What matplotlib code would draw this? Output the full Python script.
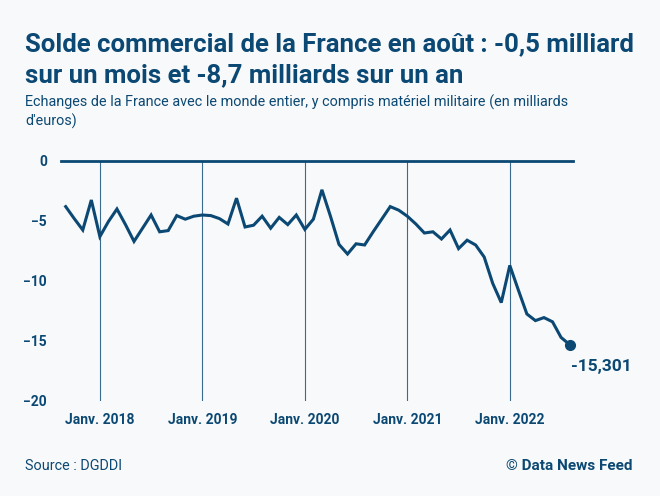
import matplotlib.pyplot as plt
import numpy as np

# Solde commercial mensuel (milliards d'euros), sept. 2017 -> août 2022
months_start = "2017-09"
solde = [
    -3.8, -4.8, -5.75, -3.25,
    -6.3, -5.05, -4.0, -5.3, -6.7, -5.6, -4.5, -5.9, -5.8, -4.55, -4.85, -4.6,
    -4.5, -4.55, -4.8, -5.25, -3.1, -5.5, -5.35, -4.6, -5.6, -4.7, -5.3, -4.5,
    -5.7, -4.85, -2.4, -4.6, -6.95, -7.75, -6.9, -7.0, -5.9, -4.85, -3.8, -4.1,
    -4.6, -5.25, -6.0, -5.9, -6.5, -5.75, -7.3, -6.6, -7.0, -8.0, -10.2, -11.8,
    -8.7, -10.75, -12.75, -13.3, -13.05, -13.4, -14.7, -15.301,
]
year_labels = ["Janv. 2018", "Janv. 2019", "Janv. 2020", "Janv. 2021", "Janv. 2022"]
year_pos = [4, 16, 28, 40, 52]
y_ticks = [0, -5, -10, -15, -20]
last_label = "-15,301"

BLUE = "#0b4873"
BG = "#f8f9fa"
plt.rcParams["font.family"] = ["Roboto", "DejaVu Sans"]

fig = plt.figure(figsize=(6.6, 4.96), dpi=100, facecolor=BG)
ax = fig.add_axes([61 / 660, 1 - 401 / 496, 512 / 660, 240 / 496])
ax.set_facecolor(BG)

x = np.arange(len(solde))
ax.plot(x, solde, color=BLUE, lw=2.2, solid_joinstyle="miter", zorder=3)
ax.plot(x[-1], solde[-1], "o", color=BLUE, ms=7, clip_on=False, zorder=4)
ax.annotate(last_label, (x[-1], solde[-1]), xytext=(23, -16), textcoords="offset points",
            ha="center", va="center", fontsize=12.5, fontweight="bold", color=BLUE,
            annotation_clip=False)

ax.axhline(0, color=BLUE, lw=2, clip_on=False, zorder=2)
for p in year_pos:
    ax.axvline(p, color=BLUE, lw=0.8, alpha=0.8, zorder=1)

ax.set_xlim(-0.55, 59.4)
ax.set_ylim(-20, 0)
for s in ax.spines.values():
    s.set_visible(False)

ax.set_yticks(y_ticks)
ax.set_yticklabels(["0" if v == 0 else "\u2212%d" % -v for v in y_ticks])
ax.set_xticks(year_pos)
ax.set_xticklabels(year_labels)
ax.tick_params(length=0, colors=BLUE, labelsize=10)
ax.tick_params(axis="y", pad=10)
ax.tick_params(axis="x", pad=9)
for lab in ax.get_xticklabels() + ax.get_yticklabels():
    lab.set_fontweight("bold")

fig.text(25 / 660, 1 - 44 / 496, "Solde commercial de la France en août : -0,5 milliard",
         fontsize=18.5, fontweight="bold", color=BLUE, va="center")
fig.text(25 / 660, 1 - 75 / 496, "sur un mois et -8,7 milliards sur un an",
         fontsize=18.5, fontweight="bold", color=BLUE, va="center")
fig.text(25 / 660, 1 - 102 / 496,
         "Echanges de la France avec le monde entier, y compris matériel militaire (en milliards",
         fontsize=10.4, color=BLUE, va="center")
fig.text(25 / 660, 1 - 121 / 496, "d'euros)", fontsize=10.4, color=BLUE, va="center")
fig.text(25 / 660, 1 - 466 / 496, "Source : DGDDI", fontsize=10.4, color=BLUE, va="center")
fig.text(632 / 660, 1 - 466 / 496, "© Data News Feed", fontsize=11, fontweight="bold",
         color=BLUE, va="center", ha="right")

fig.savefig("out.png", dpi=100, facecolor=BG)
